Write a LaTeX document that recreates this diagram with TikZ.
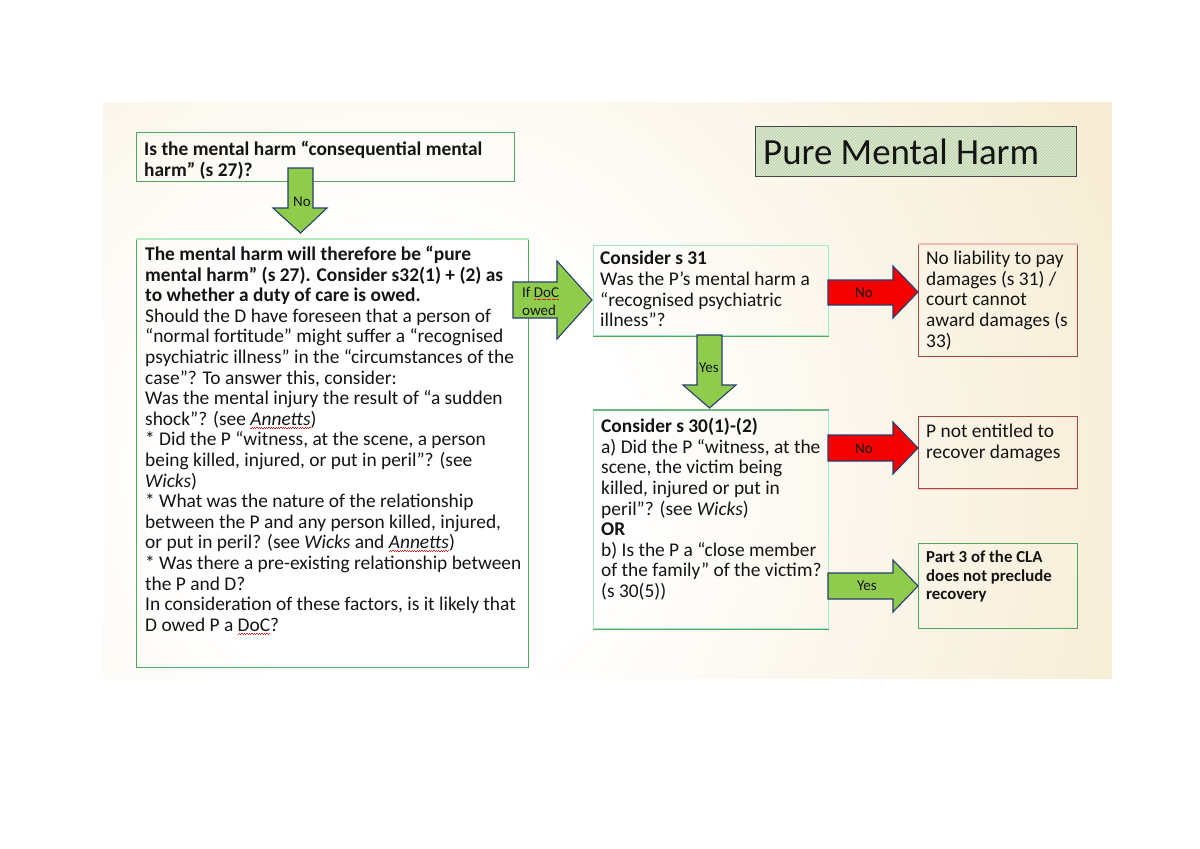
\documentclass[tikz,border=0pt]{standalone}
\usepackage{fontspec}
\setmainfont{Carlito}
\usetikzlibrary{patterns,calc}
\definecolor{bgtan}{RGB}{237,216,164}
\definecolor{boxgreen}{RGB}{84,165,96}
\definecolor{palegreen}{RGB}{175,235,190}
\definecolor{mint}{RGB}{165,232,205}
\definecolor{darkred}{RGB}{165,72,66}
\definecolor{pinkish}{RGB}{240,190,185}
\definecolor{arrowgreen}{RGB}{143,204,75}
\definecolor{arrowblue}{RGB}{40,62,112}
\definecolor{arrowred}{RGB}{245,0,0}
\definecolor{titlefill}{RGB}{220,234,205}
\definecolor{titlehatch}{RGB}{180,202,165}
\definecolor{titleborder}{RGB}{70,70,70}
\definecolor{txtcol}{RGB}{20,20,20}
\definecolor{splred}{RGB}{230,30,30}
\pgfdeclareradialshading{bgshade}{\pgfpoint{0bp}{0bp}}{color(0bp)=(white); color(7bp)=(white); color(42bp)=(bgtan); color(50bp)=(bgtan)}
\newcommand\spl[1]{\setbox0\hbox{#1}\rlap{\textcolor{splred}{\raisebox{-3pt}{\hbox to \wd0{\xleaders\hbox to 2.4pt{\rule[0pt]{1.2pt}{0.8pt}\rule[0.7pt]{1.2pt}{0.8pt}}\hfill}}}}\box0}
\begin{document}
\begin{tikzpicture}[x=1pt,y=-1pt,
  box/.style={draw=boxgreen, line width=1.2pt, inner sep=0pt, anchor=north west},
  rbox/.style={draw=darkred, line width=1.2pt, inner sep=0pt, anchor=north west},
  mbox/.style={draw=mint, line width=1.2pt, inner sep=0pt, anchor=north west},
  txt/.style={anchor=north west, inner sep=0pt, align=left, text=txtcol,
    font=\fontsize{19.4}{20.6}\selectfont},
  smalltxt/.style={anchor=north west, inner sep=0pt, align=left, text=txtcol,
    font=\fontsize{16.8}{18.2}\selectfont\bfseries},
  garrow/.style={fill=arrowgreen, draw=arrowblue, line width=1.1pt, line join=miter},
  rarrow/.style={fill=arrowred, draw=arrowblue, line width=1.1pt, line join=miter},
  alab/.style={inner sep=0pt, text=txtcol, font=\fontsize{15}{18}\selectfont}]
\useasboundingbox (0,0) rectangle (1200,849);
\fill[white] (0,0) rectangle (1200,849);
% background panel
\begin{scope}
\clip (103,102) rectangle (1112,678);
\shade[shading=bgshade] (-420,-350) rectangle (1220,1290);
\end{scope}
% boxes
\node[box, minimum width=378, minimum height=49] (b1) at (136,132) {};
\node[box, minimum width=392, minimum height=428] (b2) at (136,239) {};
\draw[palegreen, line width=1.2pt] (b2.north west) -- (b2.north east);
\node[mbox, minimum width=235, minimum height=90] (b3) at (593,245) {};
\draw[boxgreen, line width=1.2pt] (b3.south west) -- (b3.south east);
\node[rbox, minimum width=159, minimum height=112] (b4) at (918,244) {};
\draw[pinkish, line width=1.2pt] (b4.north west) -- (b4.north east);
\node[mbox, minimum width=235, minimum height=218] (b5) at (593,410) {};
\draw[boxgreen, line width=1.2pt] (b5.south west) -- (b5.south east);
\draw[boxgreen!70!mint, line width=1.2pt] (b5.north west) -- (b5.north east);
\node[rbox, minimum width=159, minimum height=72] (b6) at (918,416) {};
\draw[pinkish, line width=1.2pt] (b6.south west) -- (b6.south east);
\node[box, minimum width=159, minimum height=85] (b7) at (918,543) {};
% title
\node[draw=titleborder, line width=1pt, anchor=north west, minimum width=321, minimum height=50,
  inner sep=0pt, preaction={fill=titlefill}, pattern=north east lines, pattern color=titlehatch] (tb) at (755,126) {};
\node[anchor=west, inner sep=0pt, text=txtcol, font=\fontsize{36.9}{42}\selectfont] (tt) at ($(tb.west)+(8,0)$) {Pure Mental Harm};
% texts
\node[txt, font=\fontsize{19.4}{20.6}\selectfont\bfseries] (t1) at ($(b1.north west)+(8,9)$)
  {Is the mental harm “consequential mental\\harm” (s 27)?};
\node[txt] (t2) at ($(b2.north west)+(9,7)$)
  {\textbf{The mental harm will therefore be “pure}\\
   \textbf{mental harm” (s 27). Consider s32(1) + (2) as}\\
   \textbf{to whether a duty of care is owed.}\\
   Should the D have foreseen that a person of\\
   “normal fortitude” might suffer a “recognised\\
   psychiatric illness” in the “circumstances of the\\
   case”? To answer this, consider:\\
   Was the mental injury the result of “a sudden\\
   shock”? (see \textit{\spl{Annetts}})\\
   * Did the P “witness, at the scene, a person\\
   being killed, injured, or put in peril”? (see\\
   \textit{Wicks})\\
   * What was the nature of the relationship\\
   between the P and any person killed, injured,\\
   or put in peril? (see \textit{Wicks} and \textit{\spl{Annetts}})\\
   * Was there a pre-existing relationship between\\
   the P and D?\\
   In consideration of these factors, is it likely that\\
   D owed P a \spl{DoC}?};
\node[txt] (t3) at ($(b3.north west)+(7,6)$)
  {\textbf{Consider s 31}\\
   Was the P’s mental harm a\\
   “recognised psychiatric\\
   illness”?};
\node[txt] (t4) at ($(b4.north west)+(8,7)$)
  {No liability to pay\\
   damages (s 31) /\\
   court cannot\\
   award damages (s\\
   33)};
\node[txt] (t5) at ($(b5.north west)+(8,8)$)
  {\textbf{Consider s 30(1)-(2)}\\
   a) Did the P “witness, at the\\
   scene, the victim being\\
   killed, injured or put in\\
   peril”? (see \textit{Wicks})\\
   \textbf{OR}\\
   b) Is the P a “close member\\
   of the family” of the victim?\\
   (s 30(5))};
\node[txt] (t6) at ($(b6.north west)+(8,8)$)
  {P not entitled to\\
   recover damages};
\node[smalltxt] (t7) at ($(b7.north west)+(8,8)$)
  {Part 3 of the CLA\\
   does not preclude\\
   recovery};
% block arrows
\draw[garrow] (288,168) -- (313,168) -- (313,208) -- (327,208) -- (300.5,233) -- (273,208) -- (288,208) -- cycle;
\draw[garrow] (513,282) -- (557,282) -- (557,261) -- (592,300) -- (557,339) -- (557,318) -- (513,318) -- cycle;
\draw[garrow] (697,335) -- (722,335) -- (722,385) -- (736,385) -- (709.5,408) -- (683,385) -- (697,385) -- cycle;
\draw[rarrow] (828,280) -- (893,280) -- (893,266) -- (918,292) -- (893,318) -- (893,305) -- (828,305) -- cycle;
\draw[rarrow] (828,435) -- (893,435) -- (893,422) -- (918,448) -- (893,474) -- (893,461) -- (828,461) -- cycle;
\draw[garrow] (828,573) -- (893,573) -- (893,560) -- (918,586) -- (893,612) -- (893,599) -- (828,599) -- cycle;
% arrow labels
\node[alab] (l1) at (302,202) {No};
\node[alab, anchor=west, align=left] (l2) at (522,301) {If \spl{DoC}\\owed};
\node[alab] (l3) at (709,368) {Yes};
\node[alab] (l4) at (864,293) {No};
\node[alab] (l5) at (864,449) {No};
\node[alab] (l6) at (867,586) {Yes};
\end{tikzpicture}
\end{document}
